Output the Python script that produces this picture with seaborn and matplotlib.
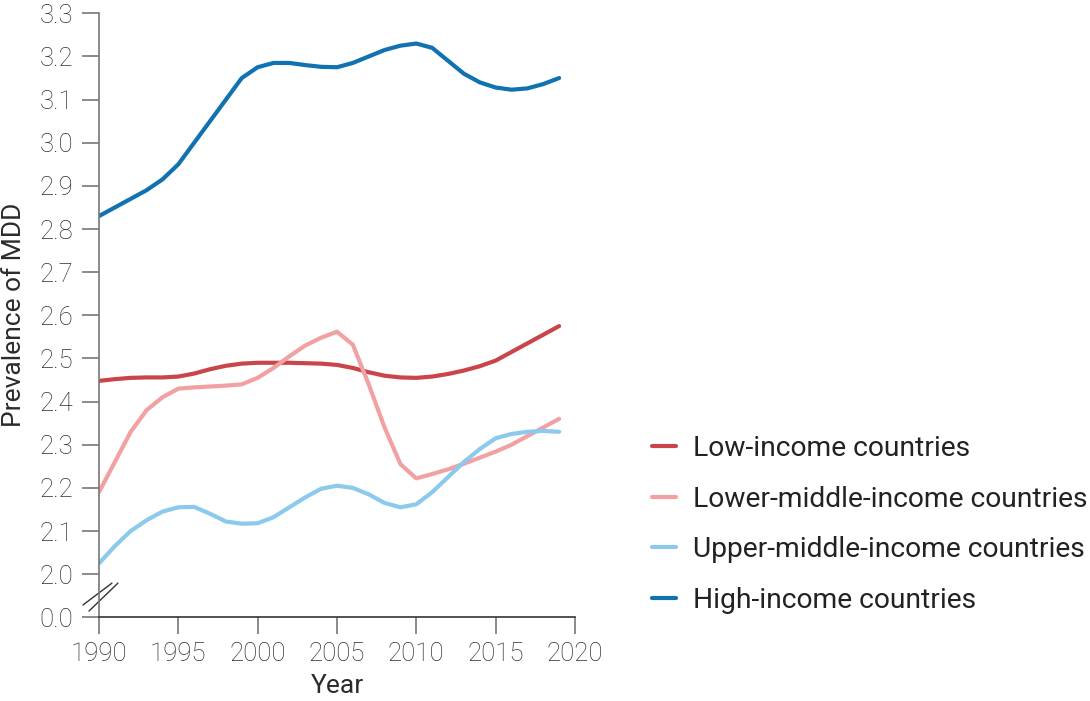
import numpy as np
import pandas as pd
import seaborn as sns
import matplotlib.pyplot as plt

## Data ==========================================================================
years = list(range(1990, 2020))

low_income = [2.448, 2.452, 2.455, 2.456, 2.456, 2.458, 2.465, 2.475, 2.483, 2.488,
              2.490, 2.490, 2.490, 2.489, 2.488, 2.485, 2.478, 2.468, 2.460, 2.456,
              2.455, 2.458, 2.464, 2.472, 2.482, 2.495, 2.515, 2.535, 2.555, 2.575]
lower_middle = [2.190, 2.260, 2.330, 2.380, 2.410, 2.430, 2.433, 2.435, 2.437, 2.440,
                2.455, 2.478, 2.505, 2.530, 2.548, 2.562, 2.532, 2.440, 2.340, 2.255,
                2.222, 2.232, 2.243, 2.256, 2.270, 2.284, 2.300, 2.320, 2.340, 2.360]
upper_middle = [2.025, 2.065, 2.100, 2.125, 2.145, 2.155, 2.156, 2.140, 2.122, 2.117,
                2.118, 2.132, 2.155, 2.178, 2.198, 2.205, 2.200, 2.185, 2.165, 2.155,
                2.162, 2.190, 2.225, 2.260, 2.290, 2.315, 2.325, 2.330, 2.332, 2.330]
high_income = [2.830, 2.850, 2.870, 2.890, 2.915, 2.950, 3.000, 3.050, 3.100, 3.150,
               3.175, 3.185, 3.185, 3.180, 3.176, 3.175, 3.185, 3.200, 3.215, 3.225,
               3.230, 3.220, 3.190, 3.160, 3.140, 3.128, 3.123, 3.126, 3.136, 3.150]

groups = ["Low-income countries", "Lower-middle-income countries",
          "Upper-middle-income countries", "High-income countries"]
colours = ["#c9454b", "#f2a1a2", "#8ccaed", "#1172b2"]

y_ticks = [1.9, 2.0, 2.1, 2.2, 2.3, 2.4, 2.5, 2.6, 2.7, 2.8, 2.9, 3.0, 3.1, 3.2, 3.3]
y_tick_labels = ["0.0"] + ["{:.1f}".format(t) for t in y_ticks[1:]]
x_ticks = [1990, 1995, 2000, 2005, 2010, 2015, 2020]

df = pd.DataFrame({
    "Year": years * 4,
    "Prevalence": low_income + lower_middle + upper_middle + high_income,
    "Group": sum([[g] * len(years) for g in groups], []),
})

## Plot ===========================================================================
sns.set_theme(style="ticks")
plt.rcParams["font.family"] = ["Roboto", "DejaVu Sans"]

fig = plt.figure(figsize=(10.9, 7.01), dpi=100)
ax = fig.add_axes([0.0908, 0.1194, 0.4367, 0.8616])

sns.lineplot(data=df, x="Year", y="Prevalence", hue="Group", hue_order=groups,
             palette=colours, linewidth=3.0, ax=ax)

ax.set_xlim(1990, 2020)
ax.set_ylim(1.9, 3.3)
ax.set_xticks(x_ticks)
ax.set_yticks(y_ticks)
ax.set_yticklabels(y_tick_labels)

ax.tick_params(axis="both", labelsize=18.5, colors="#777777", labelcolor="#2e2e2e",
               length=12.5, width=1.2)
ax.tick_params(axis="x", pad=5)
ax.tick_params(axis="y", pad=6)
for lab in ax.get_xticklabels() + ax.get_yticklabels():
    lab.set_fontweight("light")
for s in ["top", "right"]:
    ax.spines[s].set_visible(False)
ax.spines["left"].set_color("#777777")
ax.spines["left"].set_linewidth(1.2)
ax.spines["bottom"].set_color("#333333")
ax.spines["bottom"].set_linewidth(1.2)

ax.set_xlabel("Year", fontsize=19, color="#2b2b2b", labelpad=6)
ax.set_ylabel("Prevalence of MDD", fontsize=19, color="#2b2b2b", labelpad=10)

# axis break marks between 0.0 and 2.0
for dx in [0.0, 0.0126]:
    ax.plot([-0.0336 + dx, 0.0273 + dx], [0.0204 - dx * 0.8, 0.0566],
            transform=ax.transAxes, color="#333333", lw=1.0, clip_on=False)

sns.move_legend(ax, "center left", bbox_to_anchor=(0.598, 0.2518),
                bbox_transform=fig.transFigure, frameon=False, title=None,
                fontsize=20.3, handlelength=0.85, handletextpad=0.6,
                labelspacing=0.84, borderpad=0, borderaxespad=0)
for line in ax.get_legend().get_lines():
    line.set_linewidth(3.0)
for t in ax.get_legend().get_texts():
    t.set_color("#222222")

plt.savefig("out.png", dpi=100)
